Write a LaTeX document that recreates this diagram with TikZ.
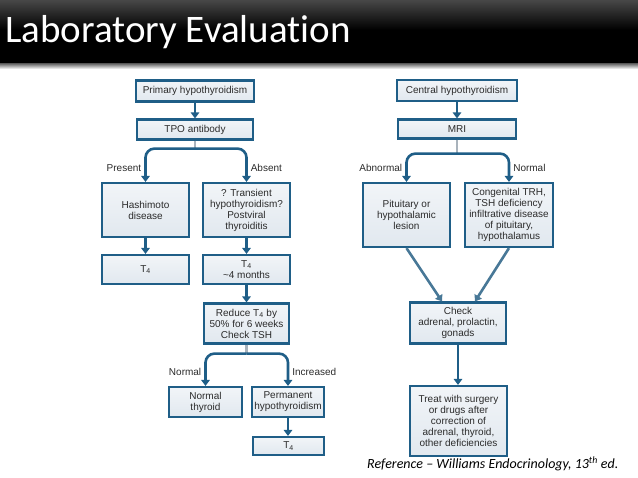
\documentclass[tikz,border=0pt]{standalone}
\usepackage{fontspec}
\setmainfont{Liberation Sans}
\newfontfamily\slidefont[Ligatures=NoCommon]{Carlito}
\usetikzlibrary{arrows.meta}
\definecolor{bblue}{HTML}{1F5E87}
\definecolor{bfill}{HTML}{E1E8EF}
\definecolor{sgray}{HTML}{A9B3BC}
\definecolor{tgray}{HTML}{2B2B2B}
\tikzset{
  >={Triangle[length=6pt,width=8.5pt]},
  bx/.style={draw=bblue,line width=2.2pt,top color=bfill!45!white,bottom color=bfill,
    align=center,inner sep=1pt,text=tgray,font=\fontsize{10}{11}\selectfont},
  ar/.style={->,draw=bblue,line width=2.6pt},
  st/.style={draw=sgray,line width=2.6pt},
  lb/.style={text=tgray,inner sep=3pt,font=\fontsize{10}{11}\selectfont},
}
\begin{document}
\begin{tikzpicture}[x=1pt,y=-1pt]
\useasboundingbox (0,0) rectangle (638,478);
\fill[black] (0,0) rectangle (638,64);
\shade[top color=black!72,bottom color=black] (0,0) rectangle (638,30);
\shade[top color=black!55,bottom color=white] (0,64) rectangle (638,69);
\node[anchor=base west,inner sep=0,text=white,font=\slidefont\fontsize{39}{44}\selectfont] (title) at (5,43) {Laboratory Evaluation};

\node[bx,minimum width=118pt,minimum height=21pt] (prim) at (195,91) {Primary hypothyroidism};
\node[bx,minimum width=116pt,minimum height=20pt] (tpo) at (195,129.5) {TPO antibody};
\node[bx,minimum width=87pt,minimum height=54pt] (hash) at (145.5,210) {Hashimoto\\disease};
\node[bx,minimum width=87pt,minimum height=54pt] (trans) at (246.5,210) {? Transient\\hypothyroidism?\\Postviral\\thyroiditis};
\node[bx,minimum width=87pt,minimum height=29pt] (t4a) at (145.5,269.5) {T\textsubscript{4}};
\node[bx,minimum width=87pt,minimum height=29pt] (t4b) at (246.5,269.5) {T\textsubscript{4}\\\textasciitilde4 months};
\node[bx,minimum width=85pt,minimum height=40pt] (red) at (246.5,323.5) {Reduce T\textsubscript{4} by\\50\% for 6 weeks\\Check TSH};
\node[bx,minimum width=73pt,minimum height=30pt] (nth) at (205.5,402) {Normal\\thyroid};
\node[bx,minimum width=72pt,minimum height=30pt] (perm) at (288,402) {Permanent\\hypothyroidism};
\node[bx,minimum width=71pt,minimum height=18pt] (t4c) at (288.5,446) {T\textsubscript{4}};

\node[bx,minimum width=120pt,minimum height=21pt] (cen) at (457,90.5) {Central hypothyroidism};
\node[bx,minimum width=118pt,minimum height=19pt] (mri) at (457,129) {MRI};
\node[bx,minimum width=87pt,minimum height=64pt] (pit) at (406.5,215) {Pituitary or\\hypothalamic\\lesion};
\node[bx,minimum width=88pt,minimum height=64pt] (con) at (509,215) {Congenital TRH,\\TSH deficiency\\infiltrative disease\\of pituitary,\\hypothalamus};
\node[bx,minimum width=96pt,minimum height=41pt] (chk) at (458,323) {Check\\adrenal, prolactin,\\gonads};
\node[bx,minimum width=97pt,minimum height=70pt] (trt) at (458.5,421) {Treat with surgery\\or drugs after\\correction of\\adrenal, thyroid,\\other deficiencies};

\foreach \p/\q in {prim/tpo,hash/t4a,trans/t4b,t4b/red,perm/t4c,cen/mri,chk/trt}
  \draw[ar] (\p.south) -- (\p.south |- \q.north);

\draw[st] (tpo.south) -- ++(0,8) coordinate (ts);
\draw[st] (red.south) -- ++(0,9) coordinate (rs);
\draw[st] (mri.south) -- ++(0,14) coordinate (ms);
\draw[ar,rounded corners=9pt] (ts) -| node[lb,left,pos=0.79] {Present} (hash.north);
\draw[ar,rounded corners=9pt] (ts) -| node[lb,right,pos=0.79] {Absent} (trans.north);
\draw[ar,rounded corners=9pt] (rs) -| node[lb,left,pos=0.78] {Normal} (nth.north);
\draw[ar,rounded corners=9pt] (rs) -| node[lb,right,pos=0.78] {Increased} (perm.north);
\draw[ar,rounded corners=9pt] (ms) -| node[lb,left,pos=0.75] {Abnormal} (pit.north);
\draw[ar,rounded corners=9pt] (ms) -| node[lb,right,pos=0.75] {Normal} (con.north);
\draw[ar,draw=bblue!70!sgray] (pit.south) -- ([xshift=-16pt]chk.north);
\draw[ar,draw=bblue!70!sgray] (con.south) -- ([xshift=17pt]chk.north);

\node[anchor=base west,inner sep=0,font=\slidefont\itshape\fontsize{14}{16}\selectfont] (ref) at (367,469) {Reference \textendash{} Williams Endocrinology, 13\textsuperscript{th} ed.};
\end{tikzpicture}
\end{document}
